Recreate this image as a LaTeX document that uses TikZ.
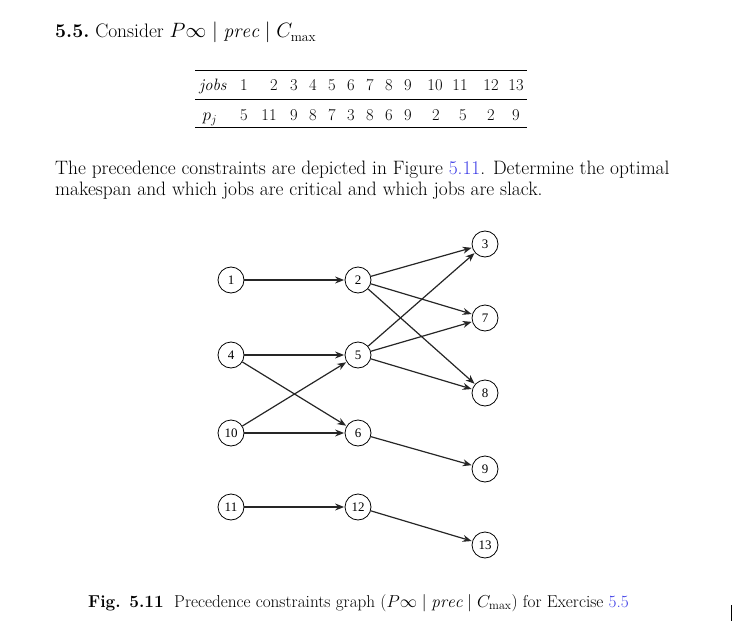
\documentclass[tikz,border=0pt]{standalone}
\usepackage{fontspec}
\newfontfamily\tnr{Liberation Serif}
\usetikzlibrary{arrows.meta}
\definecolor{linkblue}{RGB}{60,60,230}
\tikzset{
 job/.style={circle,draw,line width=0.8pt,minimum size=26pt,inner sep=0pt,font=\tnr\fontsize{13}{13}\selectfont},
 arr/.style={-{Stealth[length=9pt,width=7pt]},line width=1.2pt,draw=black!85,shorten >=0.5pt},
 body/.style={anchor=base west,inner sep=0pt,font=\fontsize{19.4}{22}\selectfont},
 cell/.style={anchor=base,inner sep=0pt,font=\fontsize{16.5}{19}\selectfont}
}
\begin{document}
\begin{tikzpicture}[x=1pt,y=-1pt]
\useasboundingbox (0,0) rectangle (733,631);
\node[body,font=\fontsize{19.5}{22}\selectfont] (title) at (55,38) {\textbf{5.5.}\ Consider $P\infty\mid \mathit{prec}\mid C_{\max}$};
% table
\draw[line width=0.8pt] (195,70) -- (527,70);
\draw[line width=0.5pt] (195,99) -- (527,99);
\draw[line width=0.8pt] (195,127) -- (527,127);
\node[cell] (hj) at (213,91) {\textit{jobs}};
\node[cell] (hp) at (210,121) {$p_j$};
\foreach \x/\j/\p in {244/1/5,274/2/,294/3/9,313/4/8,332/5/7,351/6/3,370/7/8,389/8/6,408/9/9,435/10/,460/11/,491/12/2,516/13/9}{
  \node[cell] (j\j) at (\x,91) {\j};
  \node[cell] (p\j) at (\x,121) {\p};
}
\node[cell] (p2b) at (269,121) {11};
\node[cell] (p10b) at (436,121) {2};
\node[cell] (p11b) at (463,121) {5};
\node[body] (para1) at (55,175) {The precedence constraints are depicted in Figure \textcolor{linkblue}{5.11}. Determine the optimal};
\node[body] (para2) at (55,196) {makespan and which jobs are critical and which jobs are slack.};
% graph
\node[job] (n1) at (231,280) {1};
\node[job] (n2) at (358,280) {2};
\node[job] (n3) at (485,244) {3};
\node[job] (n4) at (231,355) {4};
\node[job] (n5) at (358,355) {5};
\node[job] (n7) at (485,318) {7};
\node[job] (n8) at (485,393) {8};
\node[job] (n10) at (231,433) {10};
\node[job] (n6) at (358,433) {6};
\node[job] (n9) at (485,469) {9};
\node[job] (n11) at (231,507) {11};
\node[job] (n12) at (358,507) {12};
\node[job] (n13) at (485,545) {13};
\foreach \a/\b in {n1/n2,n2/n3,n2/n7,n2/n8,n4/n5,n4/n6,n10/n5,n10/n6,n5/n3,n5/n7,n5/n8,n6/n9,n11/n12,n12/n13}
  \draw[arr] (\a) -- (\b);
\node[body,font=\fontsize{17.2}{19}\selectfont] (cap) at (88,607) {\textbf{Fig. 5.11}\ \ Precedence constraints graph ($P\infty\mid \mathit{prec}\mid C_{\max}$) for Exercise \textcolor{linkblue}{5.5}};
\coordinate (c1) at (731,605);
\coordinate (c2) at (731,621);
\draw[line width=0.8pt] (c1) -- (c2);
\end{tikzpicture}
\end{document}
